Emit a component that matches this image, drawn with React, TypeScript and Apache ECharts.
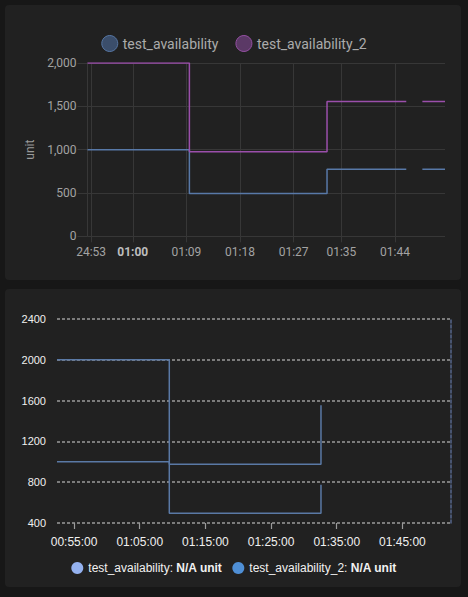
import React, { useEffect, useRef } from "react";
import * as echarts from "echarts";

const seriesNames = ["test_availability", "test_availability_2"];
// minutes after midnight
const timeMinutes = [52.4, 69.5, 92.6, 103.2, 105.9, 108.6, 112.4];
const availability = [1000, 495, 775, 775, null, 775, 775];
const availability2 = [2000, 975, 1555, 1555, null, 1555, 1555];
const lowerPanelPointCount = 3;

const xMin = 52.4;
const xMax = 112.4;

const topTickMinutes = [53, 60, 69, 78, 87, 95, 104];
const topTickLabels = ["24:53", "01:00", "01:09", "01:18", "01:27", "01:35", "01:44"];
const topBoldLabels = ["01:00"];

const bottomTickMinutes = [55, 65, 75, 85, 95, 105];
const bottomTickLabels = ["00:55:00", "01:05:00", "01:15:00", "01:25:00", "01:35:00", "01:45:00"];

const topYTicks = { min: 0, max: 2000, interval: 500 };
const bottomYTicks = { min: 400, max: 2400, interval: 400 };

function pairs(values: (number | null)[], count: number) {
  return timeMinutes.slice(0, count).map((t, i) => [t, values[i]]);
}

function labelFor(ticks: number[], labels: string[], v: number) {
  const i = ticks.findIndex((t) => Math.abs(t - v) < 0.001);
  return i >= 0 ? labels[i] : "";
}

const topGrid = "#373737";
const blueLine = "#5879a8";
const purpleLine = "#9b4fab";
const lowerLine = "#5a79a5";

const option: any = {
  animation: false,
  backgroundColor: "transparent",
  textStyle: { fontFamily: "Roboto" },
  grid: [
    { left: 87.5, right: 23, top: 63, bottom: 360.7 },
    { left: 57, right: 17, top: 319, bottom: 74 },
  ],
  legend: [
    {
      top: 30,
      left: "center",
      icon: "circle",
      itemWidth: 16,
      itemHeight: 16,
      itemGap: 17,
      textStyle: { color: "#ababab", fontSize: 14, fontFamily: "Roboto" },
      data: [
        { name: seriesNames[0], itemStyle: { color: "#3b4e6b", borderColor: "#5676a3", borderWidth: 1 } },
        { name: seriesNames[1], itemStyle: { color: "#5b3966", borderColor: "#9550a3", borderWidth: 1 } },
      ],
    },
    {
      top: 557,
      left: "center",
      icon: "circle",
      itemWidth: 12,
      itemHeight: 12,
      itemGap: 10,
      formatter: (n: string) => `${n}: {b|N/A unit}`,
      textStyle: {
        color: "#f2f2f2",
        fontSize: 12,
        fontFamily: "Liberation Sans",
        rich: { b: { fontWeight: "bold", color: "#f2f2f2", fontSize: 12, fontFamily: "Liberation Sans" } },
      },
      data: [
        { name: seriesNames[0], itemStyle: { color: "#94b1ef", borderWidth: 0 } },
        { name: seriesNames[1], itemStyle: { color: "#4f8fd6", borderWidth: 0 } },
      ],
    },
  ],
  xAxis: [
    {
      type: "value",
      gridIndex: 0,
      min: xMin,
      max: xMax,
      axisLine: { show: false },
      axisTick: { show: true, length: 6, lineStyle: { color: topGrid }, customValues: topTickMinutes },
      splitLine: { show: true, lineStyle: { color: topGrid, width: 1 } },
      axisLabel: {
        customValues: topTickMinutes,
        margin: 10,
        color: "#a3a3a3",
        fontSize: 12,
        fontFamily: "Roboto",
        formatter: (v: number) => {
          const s = labelFor(topTickMinutes, topTickLabels, v);
          return topBoldLabels.includes(s) ? `{b|${s}}` : s;
        },
        rich: { b: { fontWeight: "bold", color: "#bdbdbd", fontSize: 12, fontFamily: "Roboto" } },
      },
    },
    {
      type: "value",
      gridIndex: 1,
      min: xMin,
      max: xMax,
      axisLine: { show: false },
      axisTick: { show: true, length: 6, lineStyle: { color: "#9a9a9a", width: 1.2 }, customValues: bottomTickMinutes },
      splitLine: { show: false },
      axisLabel: {
        customValues: bottomTickMinutes,
        margin: 13,
        color: "#f0f0f0",
        fontSize: 12,
        fontFamily: "Liberation Sans",
        formatter: (v: number) => labelFor(bottomTickMinutes, bottomTickLabels, v),
      },
    },
  ],
  yAxis: [
    {
      type: "value",
      gridIndex: 0,
      ...topYTicks,
      name: "unit",
      nameLocation: "middle",
      nameGap: 46,
      nameTextStyle: { color: "#9a9a9a", fontSize: 12, fontFamily: "Roboto" },
      axisLine: { show: true, lineStyle: { color: topGrid } },
      axisTick: { show: true, length: 10, lineStyle: { color: topGrid } },
      splitLine: { show: true, lineStyle: { color: topGrid } },
      axisLabel: {
        margin: 11,
        color: "#a3a3a3",
        fontSize: 12,
        fontFamily: "Roboto",
        formatter: (v: number) => v.toLocaleString("en-US"),
      },
    },
    {
      type: "value",
      gridIndex: 1,
      ...bottomYTicks,
      axisLine: { show: false },
      axisTick: { show: false },
      splitLine: { show: true, lineStyle: { color: "#9a9a9a", type: [3, 2], width: 1.5 } },
      axisLabel: {
        margin: 11,
        color: "#f0f0f0",
        fontSize: 11,
        fontFamily: "Liberation Sans",
        formatter: (v: number) => String(v),
      },
    },
    {
      type: "value",
      gridIndex: 1,
      position: "right",
      ...bottomYTicks,
      axisLine: { show: true, lineStyle: { color: "#56668a", type: [3, 2], width: 1.5 } },
      axisTick: { show: false },
      axisLabel: { show: false },
      splitLine: { show: false },
    },
  ],
  series: [
    {
      name: seriesNames[0],
      type: "line",
      xAxisIndex: 0,
      yAxisIndex: 0,
      step: "end",
      symbol: "none",
      lineStyle: { color: blueLine, width: 1.5 },
      itemStyle: { color: blueLine },
      data: pairs(availability, timeMinutes.length),
    },
    {
      name: seriesNames[1],
      type: "line",
      xAxisIndex: 0,
      yAxisIndex: 0,
      step: "end",
      symbol: "none",
      lineStyle: { color: purpleLine, width: 1.5 },
      itemStyle: { color: purpleLine },
      data: pairs(availability2, timeMinutes.length),
    },
    {
      name: seriesNames[0],
      type: "line",
      xAxisIndex: 1,
      yAxisIndex: 1,
      step: "end",
      symbol: "none",
      lineStyle: { color: lowerLine, width: 1.5 },
      itemStyle: { color: lowerLine },
      data: pairs(availability, lowerPanelPointCount),
    },
    {
      name: seriesNames[1],
      type: "line",
      xAxisIndex: 1,
      yAxisIndex: 1,
      step: "end",
      symbol: "none",
      lineStyle: { color: lowerLine, width: 1.5 },
      itemStyle: { color: lowerLine },
      data: pairs(availability2, lowerPanelPointCount),
    },
  ],
};

export default function App() {
  const ref = useRef<HTMLDivElement>(null);
  useEffect(() => {
    const chart = echarts.init(ref.current!, null, { renderer: "svg" });
    chart.setOption(option);
    return () => chart.dispose();
  }, []);
  return (
    <div style={{ position: "fixed", left: 0, top: 0, width: 468, height: 597, background: "#171717" }}>
      <div style={{ position: "absolute", left: 5, top: 5, width: 456, height: 275, background: "#212121", borderRadius: 4 }} />
      <div style={{ position: "absolute", left: 5, top: 289, width: 456, height: 298, background: "#212121", borderRadius: 4 }} />
      <div ref={ref} style={{ position: "absolute", left: 0, top: 0, width: 468, height: 597 }} />
    </div>
  );
}
